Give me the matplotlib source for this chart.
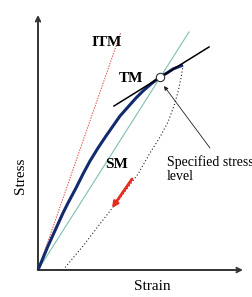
import matplotlib
matplotlib.use("Agg")
import matplotlib.pyplot as plt

# Data (strain, stress) in arbitrary units
blue_x = [0, 5, 10, 15, 20, 25, 30, 38, 45, 52, 60, 68, 75, 82, 90, 98,
          105, 113, 122, 129, 135, 140, 145]
blue_y = [0, 12, 24, 35, 46, 57, 67, 82, 96, 109, 122, 134, 144, 154, 163,
          172, 179, 186, 193, 197, 201, 203, 205]

itm_x = [0, 83]
itm_y = [0, 238]

sm_x = [0, 151]
sm_y = [0, 238]

tan_x = [76, 171]
tan_y = [164, 223]

unload_x = [25, 45, 65, 85, 100, 112, 122, 130, 136, 140, 143, 145]
unload_y = [0, 24, 50, 76, 96, 117, 133, 148, 164, 178, 192, 204]

point_x, point_y = 122, 193
red_arrow = [(94, 91), (74, 62)]          # tail, head
note_arrow = [(172, 122), (126, 184)]     # tail, head

fig = plt.figure(figsize=(2.53, 2.97), dpi=100)
ax = fig.add_axes([0, 0, 1, 1])
ax.set_xlim(-38, 215)
ax.set_ylim(-27, 270)
ax.axis("off")

serif = ["Liberation Serif", "DejaVu Serif"]

# axes with arrows
axis_kw = dict(arrowstyle="->", color="#333333", lw=1.4, mutation_scale=8,
               shrinkA=0, shrinkB=0)
ax.annotate("", xy=(205, 0), xytext=(0, 0), arrowprops=axis_kw)
ax.annotate("", xy=(0, 255), xytext=(0, 0), arrowprops=axis_kw)

ax.plot(itm_x, itm_y, color="#e05050", lw=0.7, ls=(0, (1.5, 1.2)), zorder=2)
ax.plot(sm_x, sm_y, color="#7fbfae", lw=0.8, zorder=2)
ax.plot(unload_x, unload_y, color="#222222", lw=0.8, ls=(0, (1, 2)), zorder=2)
ax.plot(blue_x, blue_y, color="#122a6e", lw=2.2, solid_capstyle="butt",
        solid_joinstyle="round", zorder=3)
ax.plot(tan_x, tan_y, color="black", lw=1.1, zorder=4)
ax.plot([point_x], [point_y], marker="o", ms=6, mfc="white", mec="#333333",
        mew=0.8, zorder=5)

ax.annotate("", xy=red_arrow[1], xytext=red_arrow[0],
            arrowprops=dict(arrowstyle="-|>", color="#e82a1f", lw=2.0,
                            mutation_scale=8, shrinkA=0, shrinkB=0), zorder=4)
ax.annotate("", xy=note_arrow[1], xytext=note_arrow[0],
            arrowprops=dict(arrowstyle="-|>", color="#222222", lw=0.6,
                            mutation_scale=6, shrinkA=0, shrinkB=0), zorder=4)

ax.text(69, 228, "ITM", family=serif, fontsize=11, fontweight="bold",
        ha="center", va="center")
ax.text(93, 192, "TM", family=serif, fontsize=11, fontweight="bold",
        ha="center", va="center")
ax.text(79, 105, "SM", family=serif, fontsize=11, fontweight="bold",
        ha="center", va="center")
ax.text(129, 115, "Specified stress\nlevel", family=serif, fontsize=10,
        ha="left", va="top", linespacing=1.1)
ax.text(-17, 94, "Stress", family=serif, fontsize=11, rotation=90,
        ha="center", va="center")
ax.text(114, -17, "Strain", family=serif, fontsize=11,
        ha="center", va="center")

fig.savefig("out.png", dpi=100)
